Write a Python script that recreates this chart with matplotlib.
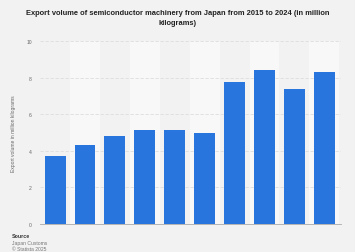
import matplotlib
matplotlib.use("Agg")
from matplotlib import pyplot as plt

plt.rcParams['font.family'] = ['Liberation Sans', 'DejaVu Sans']

years = ['2015', '2016', '2017', '2018', '2019', '2020', '2021', '2022', '2023', '2024']
volume = [3.72, 4.29, 4.83, 5.15, 5.15, 4.97, 7.76, 8.41, 7.38, 8.30]
y_ticks = [0, 2, 4, 6, 8, 10]

bg = '#f2f2f2'
fig = plt.figure(figsize=(3.55, 2.53), dpi=100, facecolor=bg)
ax = fig.add_axes([0.113, 0.111, 0.847, 0.723], facecolor=bg)

x = list(range(len(years)))
# lighter alternating column bands
for i in x:
    if i % 2 == 1:
        ax.axvspan(i - 0.5, i + 0.5, color='#f8f8f8', zorder=0, lw=0)

ax.bar(x, volume, width=0.7, color='#2876dd', zorder=3)

ax.set_xlim(-0.5, 9.55)
ax.set_ylim(0, 10)
ax.set_yticks(y_ticks)
ax.set_yticklabels([str(t) for t in y_ticks], fontsize=3.6, color='#666666')
ax.set_xticks([])
ax.grid(axis='y', color='#dddddd', lw=0.6, ls=(0, (4, 2)), zorder=1)
for s in ['top', 'right', 'left']:
    ax.spines[s].set_visible(False)
ax.spines['bottom'].set_color('#aaaaaa')
ax.spines['bottom'].set_linewidth(0.6)
ax.tick_params(axis='y', length=0, pad=6)
ax.set_ylabel('Export volume in million kilograms', fontsize=3.6, color='#666666', labelpad=7)

fig.text(0.5, 0.925, 'Export volume of semiconductor machinery from Japan from 2015 to 2024 (in million\nkilograms)',
         ha='center', va='center', fontsize=5.4, fontweight='bold', color='#222222', linespacing=1.6)

fig.text(0.033, 0.06, 'Source', fontsize=3.8, fontweight='bold', color='#333333')
fig.text(0.033, 0.033, 'Japan Customs', fontsize=3.6, color='#777777')
fig.text(0.033, 0.008, '© Statista 2025', fontsize=3.6, color='#777777')

fig.savefig('out.png', dpi=100, facecolor=bg)
